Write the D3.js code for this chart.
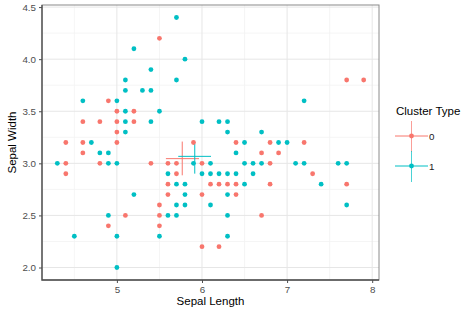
<!DOCTYPE html>
<html>
<head>
<meta charset="utf-8">
<script src="https://cdn.jsdelivr.net/npm/d3@7.9.0/dist/d3.min.js"></script>
<style>
  body { margin: 0; background: #fff; }
  svg { display: block; font-family: "Liberation Sans", Arial, sans-serif; }
</style>
</head>
<body>
<svg id="chart" width="474" height="316"></svg>
<script>
// cluster 0 points [sepal length, sepal width]
const cluster0 = [
  [5.5,4.2],[4.9,3.6],[5.0,3.5],[5.2,3.5],[4.6,3.4],[4.8,3.4],[5.0,3.4],[5.2,3.4],
  [5.0,3.3],[4.4,3.2],[4.6,3.2],[5.0,3.2],[5.9,3.2],[4.6,3.1],[4.4,3.0],[4.8,3.0],
  [5.4,3.0],[5.6,3.0],[5.7,3.0],[4.4,2.9],[5.7,2.9],[5.6,2.8],[5.6,2.7],[5.5,2.6],
  [5.1,2.5],[5.5,2.5],[4.9,2.4],[5.5,2.4],[7.7,3.8],[7.9,3.8],[6.4,3.2],[6.8,3.2],
  [7.2,3.2],[6.7,3.1],[6.9,3.1],[6.0,3.0],[6.8,3.0],[7.3,2.9],[6.1,2.8],[6.2,2.8],
  [6.3,2.8],[6.4,2.8],[6.8,2.8],[7.7,2.8],[6.0,2.7],[6.4,2.7],[6.7,2.5],[6.0,2.2],
  [6.2,2.2]
];

// cluster 1 points
const cluster1 = [
  [5.7,4.4],[5.2,4.1],[5.8,4.0],[5.4,3.9],[5.1,3.8],[5.7,3.8],[5.1,3.7],[5.3,3.7],
  [5.4,3.7],[4.6,3.6],[5.0,3.6],[7.2,3.6],[5.1,3.5],[5.5,3.5],[5.1,3.4],[5.4,3.4],
  [6.0,3.4],[6.2,3.4],[6.3,3.4],[5.1,3.3],[6.3,3.3],[6.7,3.3],[4.7,3.2],[6.5,3.2],
  [6.9,3.2],[7.0,3.2],[4.8,3.1],[4.9,3.1],[6.4,3.1],[4.3,3.0],[4.9,3.0],[5.0,3.0],
  [5.9,3.0],[6.1,3.0],[6.5,3.0],[6.6,3.0],[6.7,3.0],[7.1,3.0],[7.2,3.0],[7.6,3.0],
  [7.7,3.0],[5.6,2.9],[6.0,2.9],[6.1,2.9],[6.2,2.9],[6.3,2.9],[6.4,2.9],[6.6,2.9],
  [5.7,2.8],[5.8,2.8],[6.5,2.8],[7.4,2.8],[5.2,2.7],[5.8,2.7],[6.3,2.7],[5.7,2.6],
  [5.8,2.6],[6.1,2.6],[7.7,2.6],[4.9,2.5],[5.6,2.5],[5.7,2.5],[6.3,2.5],[4.5,2.3],
  [5.0,2.3],[5.5,2.3],[6.3,2.3],[5.0,2.0]
];

// centroid crosses: [x, xmin, xmax, y, ymin, ymax]
const centroids = [
  [5.768, 5.576, 5.965, 3.045, 2.885, 3.209],
  [5.915, 5.721, 6.106, 3.067, 2.901, 3.189]
];

const clusterLabels = ['0', '1'];
const xTicks = [5, 6, 7, 8];
const yTicks = [2.0, 2.5, 3.0, 3.5, 4.0, 4.5];

const colors = ['#F8766D', '#00BFC4'];

const svg = d3.select('#chart');
const pLeft = 42, pRight = 379, pTop = 5, pBottom = 280;

const x = d3.scaleLinear().domain([4.12, 8.08]).range([pLeft, pRight]);
const y = d3.scaleLinear().domain([1.88, 4.52]).range([pBottom, pTop]);

// grid
const g = svg.append('g');
const xMinor = d3.range(4.5, 8.01, 1);
const yMinor = d3.range(2.25, 4.5, 0.5);
g.selectAll('.xminor').data(xMinor).join('line')
  .attr('x1', d => x(d)).attr('x2', d => x(d)).attr('y1', pTop).attr('y2', pBottom)
  .attr('stroke', '#f3f3f3').attr('stroke-width', 0.8);
g.selectAll('.yminor').data(yMinor).join('line')
  .attr('y1', d => y(d)).attr('y2', d => y(d)).attr('x1', pLeft).attr('x2', pRight)
  .attr('stroke', '#f3f3f3').attr('stroke-width', 0.8);
g.selectAll('.xmajor').data(xTicks).join('line')
  .attr('x1', d => x(d)).attr('x2', d => x(d)).attr('y1', pTop).attr('y2', pBottom)
  .attr('stroke', '#e6e6e6').attr('stroke-width', 1);
g.selectAll('.ymajor').data(yTicks).join('line')
  .attr('y1', d => y(d)).attr('y2', d => y(d)).attr('x1', pLeft).attr('x2', pRight)
  .attr('stroke', '#e6e6e6').attr('stroke-width', 1);

// centroid crosses
centroids.forEach((c, i) => {
  svg.append('line')
    .attr('x1', x(c[1])).attr('x2', x(c[2])).attr('y1', y(c[3])).attr('y2', y(c[3]))
    .attr('stroke', colors[i]).attr('stroke-width', 1);
  svg.append('line')
    .attr('x1', x(c[0])).attr('x2', x(c[0])).attr('y1', y(c[4])).attr('y2', y(c[5]))
    .attr('stroke', colors[i]).attr('stroke-width', 1);
});

// points
[cluster0, cluster1].forEach((pts, i) => {
  svg.append('g').selectAll('circle').data(pts).join('circle')
    .attr('cx', d => x(d[0])).attr('cy', d => y(d[1])).attr('r', 2.4)
    .attr('fill', colors[i]);
});

// border
svg.append('rect')
  .attr('x', pLeft).attr('y', pTop).attr('width', pRight - pLeft).attr('height', pBottom - pTop)
  .attr('fill', 'none').attr('stroke', '#8a8a8a').attr('stroke-width', 1);
svg.append('path')
  .attr('d', `M${pLeft},${pTop}V${pBottom}H${pRight}`)
  .attr('fill', 'none').attr('stroke', '#4d4d4d').attr('stroke-width', 1.3);

// axes
const xAxis = svg.append('g').attr('transform', `translate(0,${pBottom})`)
  .call(d3.axisBottom(x).tickValues(xTicks).tickFormat(d3.format('d')).tickSize(3).tickPadding(3));
const yAxis = svg.append('g').attr('transform', `translate(${pLeft},0)`)
  .call(d3.axisLeft(y).tickValues(yTicks).tickFormat(d3.format('.1f')).tickSize(3).tickPadding(3));
[xAxis, yAxis].forEach(a => {
  a.select('.domain').remove();
  a.selectAll('.tick line').attr('stroke', '#4d4d4d');
  a.selectAll('.tick text').attr('fill', '#4d4d4d').style('font-size', '9.8px')
    .style('font-family', '"Liberation Sans", Arial, sans-serif');
});

svg.append('text').attr('x', (pLeft + pRight) / 2).attr('y', 305)
  .attr('text-anchor', 'middle').style('font-size', '11.5px').text('Sepal Length');
svg.append('text').attr('transform', `translate(15.5,${(pTop + pBottom) / 2}) rotate(-90)`)
  .attr('text-anchor', 'middle').style('font-size', '11.5px').text('Sepal Width');

// legend
const legend = svg.append('g');
legend.append('text').attr('x', 396).attr('y', 115)
  .style('font-size', '11.5px').text('Cluster Type');
clusterLabels.forEach((lab, i) => {
  const cy = 136 + i * 30;
  legend.append('line').attr('x1', 395).attr('x2', 428).attr('y1', cy).attr('y2', cy)
    .attr('stroke', colors[i]).attr('stroke-width', 1);
  legend.append('line').attr('x1', 411.5).attr('x2', 411.5).attr('y1', cy - 15).attr('y2', cy + 16)
    .attr('stroke', colors[i]).attr('stroke-width', 1).attr('opacity', 0.7);
  legend.append('circle').attr('cx', 411.5).attr('cy', cy).attr('r', 2.4).attr('fill', colors[i]);
  legend.append('text').attr('x', 429).attr('y', cy + 3.5)
    .style('font-size', '9.8px').attr('fill', '#1a1a1a').text(lab);
});
</script>
</body>
</html>
